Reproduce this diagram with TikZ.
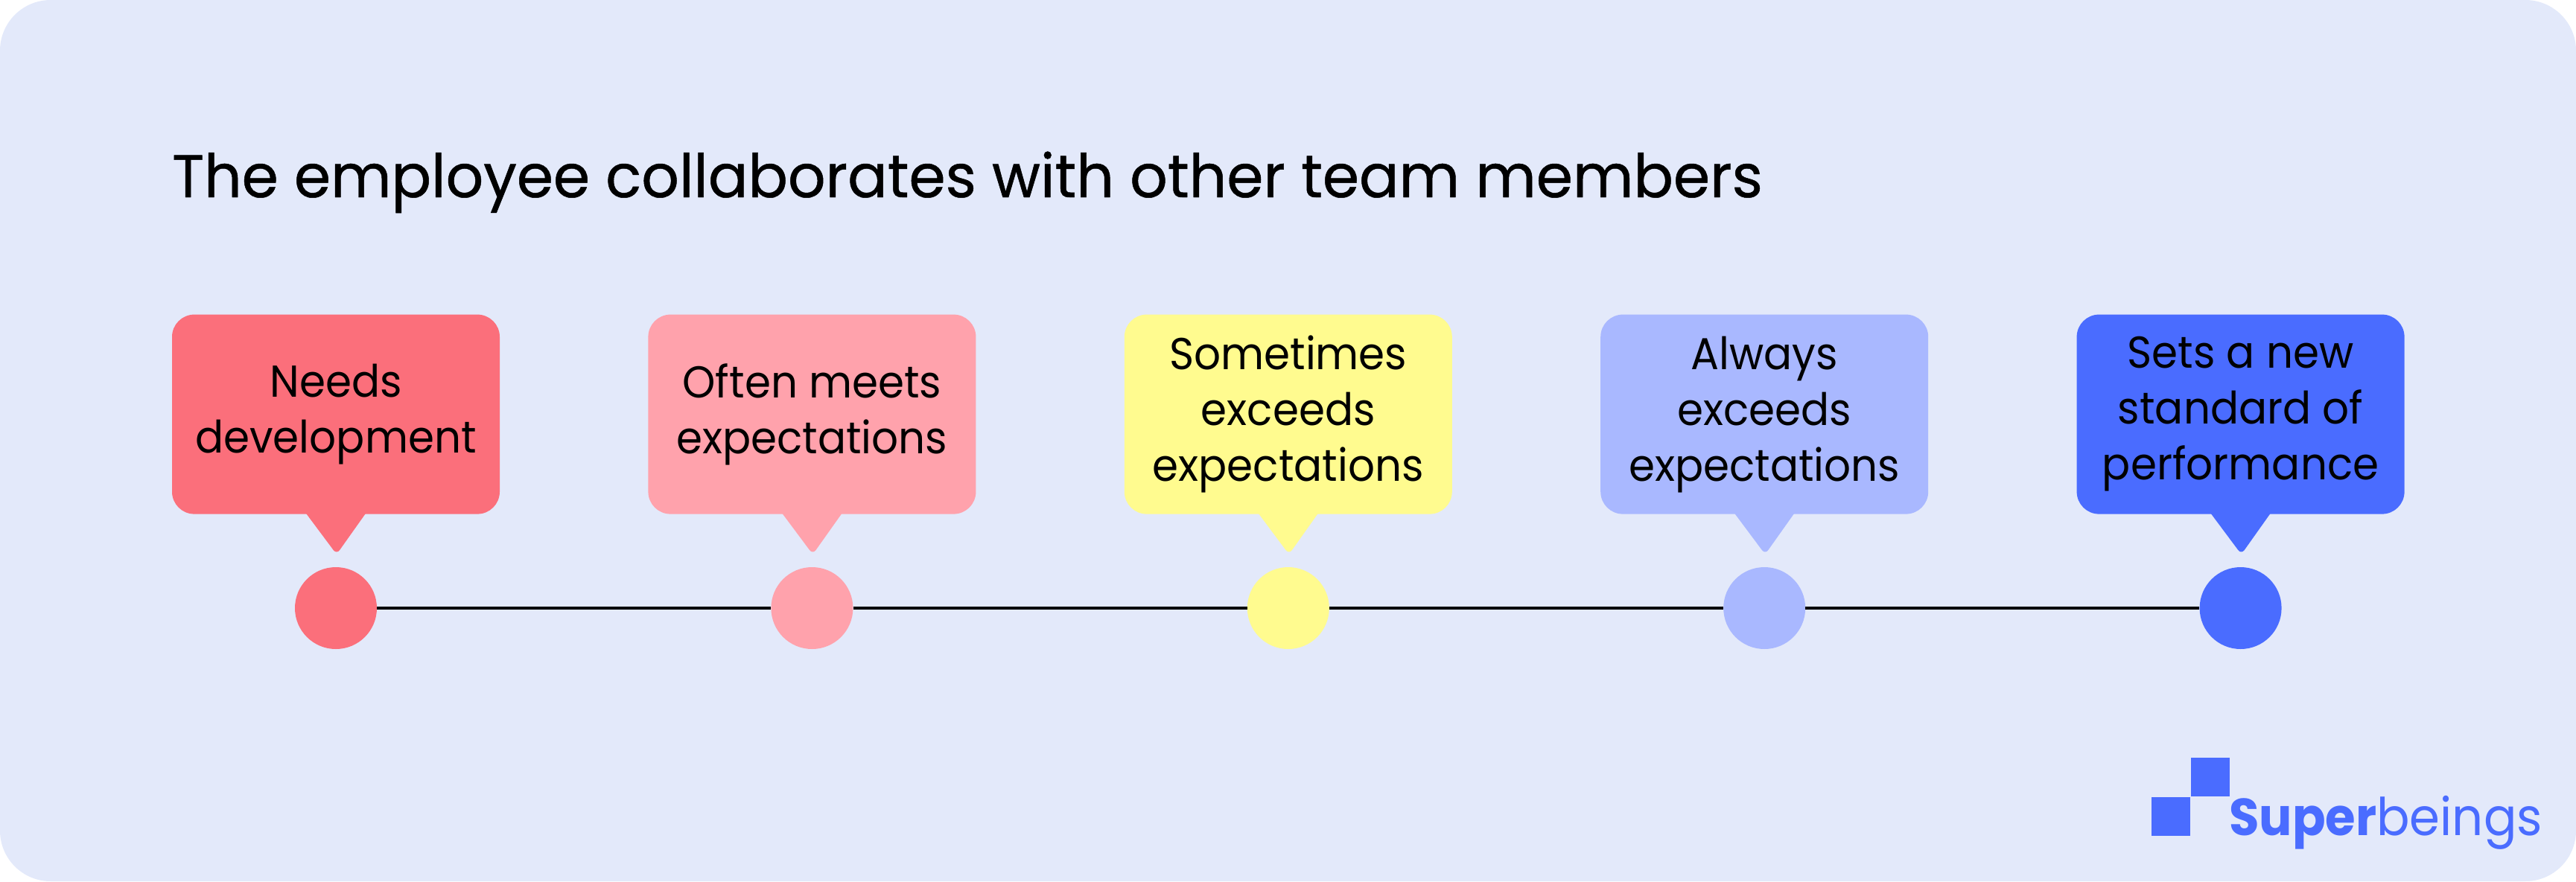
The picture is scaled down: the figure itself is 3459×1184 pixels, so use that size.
\documentclass[tikz,border=0pt]{standalone}
\usepackage{fontspec}
\setmainfont[FakeStretch=0.94]{Poppins}
\newfontfamily\titlefont[FakeStretch=0.98,FakeBold=0.6]{Poppins}
\usetikzlibrary{positioning}
\definecolor{paleblue}{HTML}{E3E9FA}
\definecolor{needs}{HTML}{FB6F7B}
\definecolor{often}{HTML}{FFA2AC}
\definecolor{sometimes}{HTML}{FFFB8F}
\definecolor{always}{HTML}{A9B8FF}
\definecolor{sets}{HTML}{4A6CFF}
\tikzset{
  dot/.style={circle,fill=#1,minimum size=110pt,inner sep=0pt},
  bubble/.style={rectangle,rounded corners=30pt,fill=#1,minimum width=440pt,
    minimum height=268pt,inner sep=0pt,align=center,
    font=\fontsize{60}{75}\selectfont,
    execute at begin node={\rule{0pt}{58pt}}},
  tip/.style={fill=#1,rounded corners=7pt},
  link/.style={line width=4.4pt,black},
  logobox/.style={fill=sets,minimum size=52pt,inner sep=0pt,rectangle}
}
\newcommand{\pointer}[2]{%
  \fill[tip=#2] ([xshift=-40pt,yshift=1pt]#1.south) -- ([xshift=1pt,yshift=-54pt]#1.south)
    -- ([xshift=40pt,yshift=1pt]#1.south);}
\begin{document}
\begin{tikzpicture}[x=1pt,y=-1pt]
\useasboundingbox (0,0) rectangle (3459,1184);
% background
\fill[paleblue,rounded corners=68pt] (0,0) rectangle (3459,1184);
\node[anchor=base west,inner sep=0pt,font=\titlefont\fontsize{80.8}{90}\selectfont] (title) at (231,265)
  {The employee collaborates with other team members};
% scale
\node[dot=needs] (dot1) at (451,817) {};
\node[dot=often,right=529pt of dot1] (dot2) {};
\node[dot=sometimes,right=529pt of dot2] (dot3) {};
\node[dot=always,right=529pt of dot3] (dot4) {};
\node[dot=sets,right=529pt of dot4] (dot5) {};
\draw[link] (dot1) -- (dot2);
\draw[link] (dot2) -- (dot3);
\draw[link] (dot3) -- (dot4);
\draw[link] (dot4) -- (dot5);
% bubbles
\node[bubble=needs,above=71pt of dot1] (box1) {Needs\\development};
\node[bubble=often,above=71pt of dot2] (box2) {Often meets\\expectations};
\node[bubble=sometimes,above=71pt of dot3] (box3) {Sometimes\\exceeds\\expectations};
\node[bubble=always,above=71pt of dot4] (box4) {Always\\exceeds\\expectations};
\node[bubble=sets,above=71pt of dot5] (box5) {Sets a new\\standard of\\performance};
\pointer{box1}{needs}
\pointer{box2}{often}
\pointer{box3}{sometimes}
\pointer{box4}{always}
\pointer{box5}{sets}
% logo
\node[logobox,anchor=south west] (logo1) at (2889,1123) {};
\node[logobox,anchor=south west] (logo2) at (logo1.north east) {};
\node[anchor=base west,inner sep=0pt,text=sets,font=\fontsize{70}{80}\selectfont] (logo) at (2993,1122.5)
  {\textbf{Super}beings};
\end{tikzpicture}
\end{document}
